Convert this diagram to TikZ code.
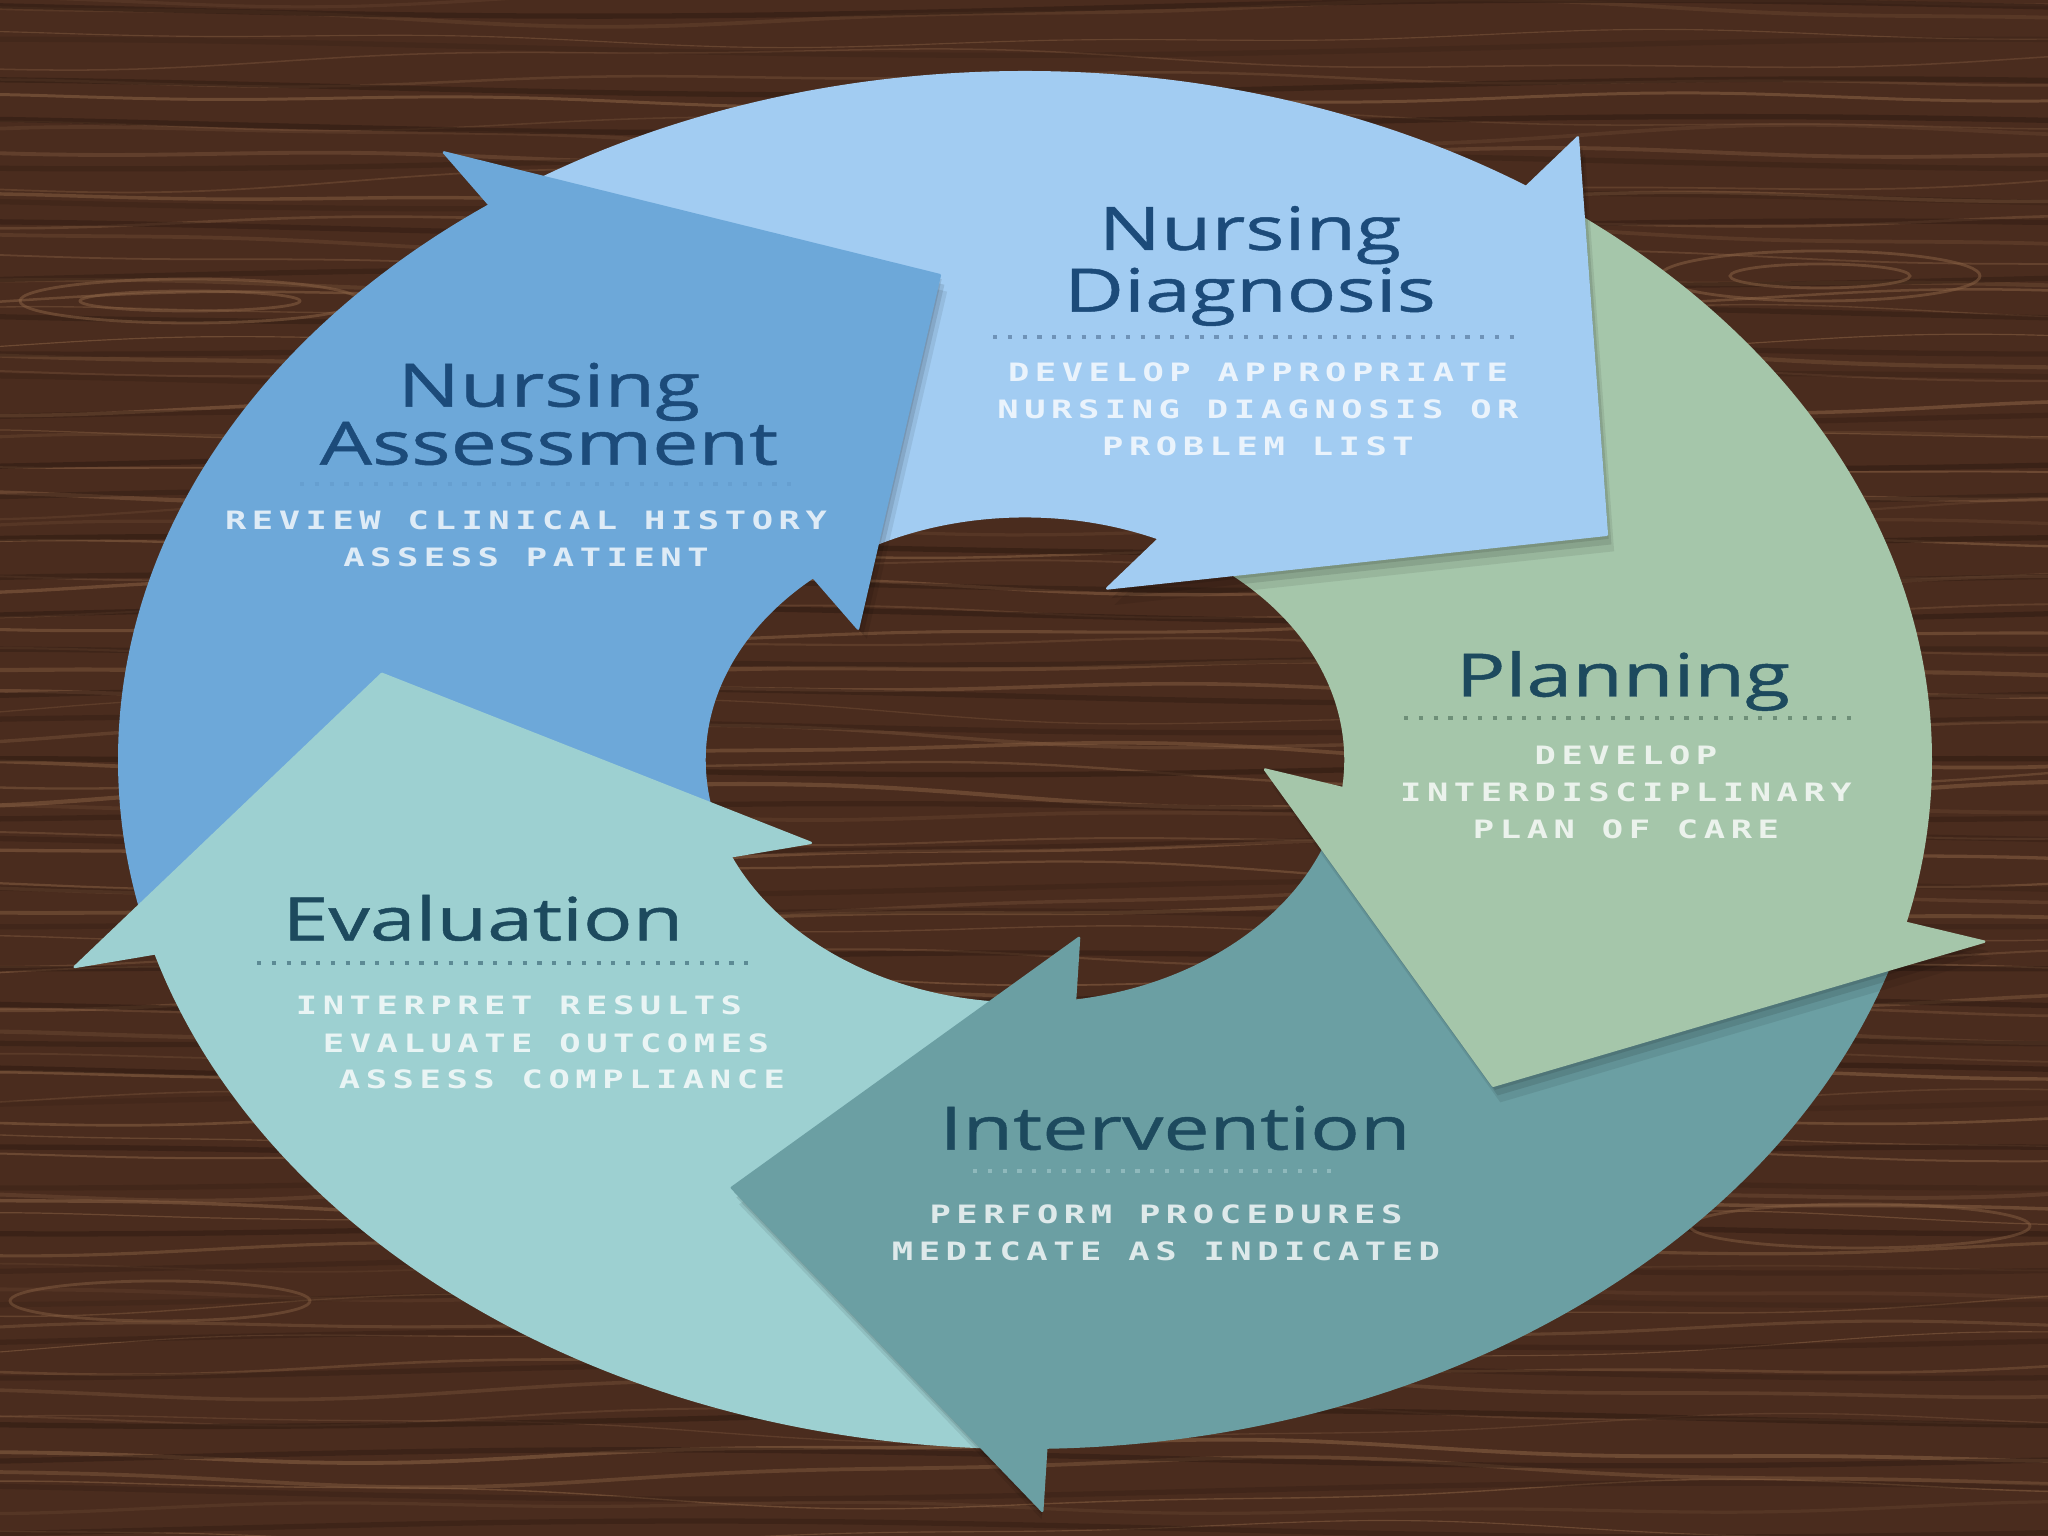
\documentclass[tikz,border=0pt]{standalone}
\usepackage{fontspec}
\usetikzlibrary{calc}
\newfontfamily\titlefont[FakeStretch=1.38,FakeBold=0.8]{Open Sans}
\newfontfamily\subfont[FakeStretch=1.4,LetterSpace=22]{DejaVu Sans Mono}
\definecolor{wood}{HTML}{4A2C1E}
\definecolor{grainL}{HTML}{8C6446}
\definecolor{grainD}{HTML}{2F1B12}
\definecolor{cA}{HTML}{6DA8D9}
\definecolor{cD}{HTML}{A2CCF2}
\definecolor{cP}{HTML}{A5C6AA}
\definecolor{cI}{HTML}{6B9FA3}
\definecolor{cE}{HTML}{9DD0D1}
\definecolor{tBlue}{HTML}{1C4B7A}
\definecolor{tTeal}{HTML}{1D4A5E}
\definecolor{dotD}{HTML}{6F93B8}
\definecolor{dotP}{HTML}{6E8F78}
\definecolor{dotE}{HTML}{5C8A94}
\definecolor{dotI}{HTML}{8FB9BC}
\definecolor{dotA}{HTML}{5A8FC0}
\tikzset{
  ttl/.style={font=\titlefont\fontsize{17}{16.5}\selectfont, align=center, inner sep=0pt},
  subt/.style={font=\subfont\bfseries\fontsize{7.2}{10.5}\selectfont, align=center, inner sep=0pt, text=white, text opacity=0.78},
  dotline/.style={line width=1.2pt, dash pattern=on 1.2pt off 3pt},
}
\begin{document}
\begin{tikzpicture}
\useasboundingbox (0,0) rectangle (20.48,15.36);
\fill[wood] (0,0) rectangle (20.48,15.36);
% wood grain
\pgfmathsetseed{12}
\foreach \k in {0,...,75}{
  \pgfmathsetmacro{\yy}{\k*0.205+0.08*rnd}
  \pgfmathsetmacro{\ph}{360*rnd}
  \pgfmathsetmacro{\amp}{0.04+0.1*rnd}
  \pgfmathsetmacro{\op}{0.15+0.4*rnd}
  \pgfmathsetmacro{\lw}{0.3+0.9*rnd}
  \draw[grainL, opacity=\op, line width=\lw pt] plot[domain=-0.2:20.7, samples=40, smooth] (\x,{\yy+\amp*sin(\x*22+\ph)+0.03*sin(\x*61+2*\ph)});
}
\foreach \k in {0,...,40}{
  \pgfmathsetmacro{\yy}{\k*0.38+0.15*rnd}
  \pgfmathsetmacro{\ph}{360*rnd}
  \pgfmathsetmacro{\op}{0.2+0.4*rnd}
  \draw[grainD, opacity=\op, line width=1.5pt] plot[domain=-0.2:20.7, samples=30, smooth] (\x,{\yy+0.08*sin(\x*18+\ph)});
}
\draw[grainL, opacity=0.5, line width=0.8pt] (1.9,12.35) ellipse (1.7 and 0.22) (1.9,12.35) ellipse (1.1 and 0.1);
\draw[grainL, opacity=0.5, line width=0.8pt] (18.2,12.6) ellipse (1.6 and 0.25) (18.2,12.6) ellipse (0.9 and 0.12);
\draw[grainL, opacity=0.45, line width=0.8pt] (1.6,2.35) ellipse (1.5 and 0.2);
\draw[grainL, opacity=0.45, line width=0.8pt] (18.6,3.1) ellipse (1.7 and 0.22);

\begin{scope}[shift={(10.25,7.76)}, xscale=9.07, yscale=6.89]
  \coordinate (outA) at (126:1.09);  \coordinate (inA) at (134:0.265);
  \coordinate (outD) at (56:1.09);   \coordinate (inD) at (70:0.265);
  \coordinate (outP) at (-14:1.09);  \coordinate (inP) at (-3:0.265);
  \coordinate (outI) at (-89:1.09);  \coordinate (inI) at (-77:0.265);
  \coordinate (outE) at (196:1.09);  \coordinate (inE) at (207:0.265);
  % ring bands
  \foreach \prev/\cur/\col/\mid in {E/A/cA/165, A/D/cD/91, D/P/cP/21, P/I/cI/-51, I/E/cE/-126}{
    \begin{scope}
      \clip ($(in\prev)!-0.2!(out\prev)$) -- ($(in\prev)!1.6!(out\prev)$) -- (\mid:2.2)
            -- ($(in\cur)!1.6!(out\cur)$) -- ($(in\cur)!-0.2!(out\cur)$) -- cycle;
      \fill[\col, even odd rule] (0,0) circle[radius=1] (0,0) circle[radius=0.352];
    \end{scope}
  }
  % arrow heads with soft shadows (shadow only in front of the head's base)
  \foreach \n/\o/\i/\a/\ra/\col in {A/126/134/97.6/0.71/cA, D/56/70/27/0.72/cD, P/-14/-3/-42.5/0.70/cP, I/-89/-77/-117.5/0.70/cI, E/196/207/170/0.72/cE}{
    \begin{scope}
      \clip ($(in\n)!-3!(out\n)$) -- ($(in\n)!4!(out\n)$) -- ($(in\n)!4!-90:(out\n)$) -- cycle;
      \fill[black, opacity=0.08, shift={(0.008,-0.024)}] (\o:1.09) -- (\a:\ra) -- (\i:0.265) -- cycle;
      \fill[black, opacity=0.10, shift={(0.005,-0.014)}] (\o:1.09) -- (\a:\ra) -- (\i:0.265) -- cycle;
      \fill[black, opacity=0.10, shift={(0.002,-0.006)}] (\o:1.09) -- (\a:\ra) -- (\i:0.265) -- cycle;
    \end{scope}
    \filldraw[fill=\col, draw=\col, line width=0.7pt, line join=round] (\o:1.09) -- (\a:\ra) -- (\i:0.265) -- cycle;
  }
\end{scope}

% Nursing Diagnosis
\node[ttl, text=tBlue] (tD) at (12.50,12.70) {Nursing\\Diagnosis};
\draw[dotline, dotD] (9.93,11.99) -- (15.22,11.99);
\node[subt] (sD) at (12.58,11.27) {DEVELOP APPROPRIATE\\NURSING DIAGNOSIS OR\\PROBLEM LIST};
% Nursing Assessment
\node[ttl, text=tBlue] (tA) at (5.49,11.22) {Nursing\\Assessment};
\draw[dotline, dotA, opacity=0.35] (3.0,10.52) -- (8.0,10.52);
\node[subt] (sA) at (5.26,9.97) {REVIEW CLINICAL HISTORY\\ASSESS PATIENT};
% Planning
\node[ttl, text=tTeal] (tP) at (16.23,8.55) {Planning};
\draw[dotline, dotP] (14.04,8.18) -- (18.61,8.18);
\node[subt] (sP) at (16.26,7.44) {DEVELOP\\INTERDISCIPLINARY\\PLAN OF CARE};
% Evaluation
\node[ttl, text=tTeal] (tE) at (4.83,6.18) {Evaluation};
\draw[dotline, dotE] (2.57,5.73) -- (7.57,5.73);
\node[subt] (sE1) at (5.19,5.31) {INTERPRET RESULTS};
\node[subt] (sE2) at (5.46,4.93) {EVALUATE OUTCOMES};
\node[subt] (sE3) at (5.62,4.57) {ASSESS COMPLIANCE};
% Intervention
\node[ttl, text=tTeal] (tI) at (11.75,4.08) {Intervention};
\draw[dotline, dotI] (9.73,3.65) -- (13.32,3.65);
\node[subt] (sI) at (11.66,3.03) {PERFORM PROCEDURES\\MEDICATE AS INDICATED};
\end{tikzpicture}
\end{document}
